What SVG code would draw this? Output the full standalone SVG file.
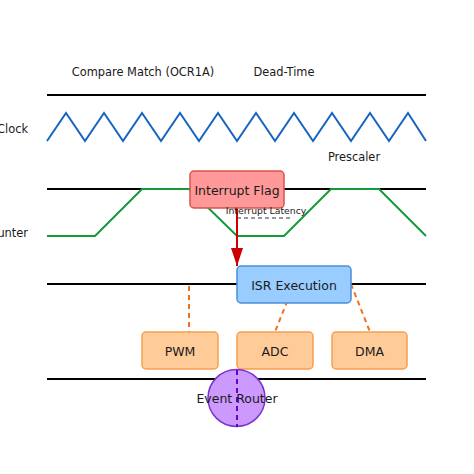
<svg xmlns="http://www.w3.org/2000/svg" width="474" height="474" viewBox="0 0 474 474">
<style>
text{font-family:"DejaVu Sans","Liberation Sans",sans-serif;fill:#1a1a1a}
.lbl{font-size:11.4px}
.axis{stroke:#000;stroke-width:2;fill:none}
.box{stroke-width:1.5}
.odash{stroke:#f07020;stroke-width:2;stroke-dasharray:5,4;fill:none}
</style>
<defs>
<marker id="ah" viewBox="0 0 18 12" refX="18" refY="6" markerWidth="18" markerHeight="12" markerUnits="userSpaceOnUse" orient="auto">
<path d="M0,0 L18,6 L0,12 Z" fill="#cc0000"/>
</marker>
</defs>
<rect width="474" height="474" fill="#fff"/>
<g id="axes">
<line class="axis" x1="47" y1="95" x2="426" y2="95"/>
<line class="axis" x1="47" y1="189" x2="426" y2="189"/>
<line class="axis" x1="47" y1="284" x2="426" y2="284"/>
<line class="axis" x1="47" y1="379" x2="426" y2="379"/>
</g>
<g id="labels">
<text class="lbl" x="143" y="76" text-anchor="middle">Compare Match (OCR1A)</text>
<text class="lbl" x="284" y="76" text-anchor="middle">Dead-Time</text>
<text class="lbl" x="354" y="161" text-anchor="middle">Prescaler</text>
<text class="lbl" x="28" y="133" text-anchor="end">Clock</text>
<text class="lbl" x="28" y="237" text-anchor="end">Counter</text>
</g>
<g id="clock">
<polyline fill="none" stroke="#1565c0" stroke-width="2" points="47,141 66,113 85,141 104,113 123,141 142,113 161,141 180,113 199,141 218,113 237,141 256,113 275,141 294,113 313,141 332,113 351,141 370,113 389,141 408,113 426,141"/>
</g>
<g id="counter">
<polyline fill="none" stroke="#159a3a" stroke-width="2" points="47,236 95,236 142,189 189,189 237,236 284,236 331,189 379,189 426,236"/>
</g>
<g id="connectors">
<line x1="237" y1="218" x2="290" y2="218" stroke="#777" stroke-width="1.3" stroke-dasharray="4,3"/>
<line x1="237" y1="207" x2="237" y2="266" stroke="#cc0000" stroke-width="2" marker-end="url(#ah)"/>
<line class="odash" x1="189" y1="286" x2="189" y2="332"/>
<line class="odash" x1="294" y1="284" x2="275" y2="332"/>
<line class="odash" x1="351" y1="284" x2="370" y2="332"/>
</g>
<g id="interrupt-flag">
<rect class="box" x="190" y="171" width="94" height="37" rx="4" fill="#ff9999" stroke="#d9534f"/>
<text x="237" y="194.5" text-anchor="middle" font-size="12.5">Interrupt Flag</text>
</g>
<g id="interrupt-latency">
<text x="266" y="213.5" text-anchor="middle" font-size="9.3">Interrupt Latency</text>
</g>
<g id="isr-execution">
<rect class="box" x="237" y="266" width="114" height="37" rx="4" fill="#99ccff" stroke="#4a8fd9"/>
<text x="294" y="289.5" text-anchor="middle" font-size="12.5">ISR Execution</text>
</g>
<g id="pwm">
<rect class="box" x="142" y="332" width="76" height="37" rx="4" fill="#ffcc99" stroke="#f5a050"/>
<text x="180" y="355.5" text-anchor="middle" font-size="12.5">PWM</text>
</g>
<g id="adc">
<rect class="box" x="237" y="332" width="76" height="37" rx="4" fill="#ffcc99" stroke="#f5a050"/>
<text x="275" y="355.5" text-anchor="middle" font-size="12.5">ADC</text>
</g>
<g id="dma">
<rect class="box" x="332" y="332" width="75" height="37" rx="4" fill="#ffcc99" stroke="#f5a050"/>
<text x="369.5" y="355.5" text-anchor="middle" font-size="12.5">DMA</text>
</g>
<g id="event-router">
<circle cx="236.5" cy="398" r="28.5" fill="#cc99ff" stroke="#7a33cc" stroke-width="1.5"/>
<line x1="237" y1="370" x2="237" y2="427" stroke="#6600cc" stroke-width="2" stroke-dasharray="5,4"/>
<text x="237" y="403" text-anchor="middle" font-size="12.5">Event Router</text>
</g>
</svg>
